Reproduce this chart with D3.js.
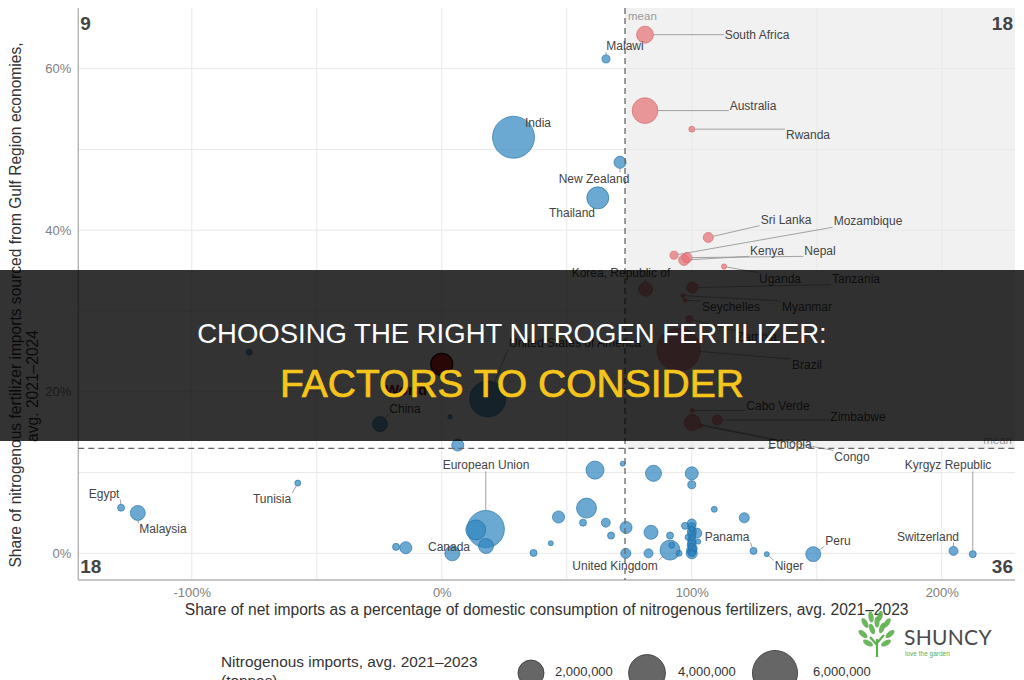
<!DOCTYPE html>
<html><head><meta charset="utf-8">
<script src="https://cdn.jsdelivr.net/npm/d3@7"></script>
<style>
html,body{margin:0;padding:0;background:#fff;}
svg{display:block;font-family:"Liberation Sans",Arial,sans-serif;}
</style></head>
<body><svg id="chart" width="1024" height="680"></svg>
<script>
// ---------------- DATA ----------------
const countries = ["South Africa","Australia","Rwanda","Sri Lanka","Mozambique","Kenya","Nepal","Uganda","Tanzania","Korea, Republic of","Seychelles","Myanmar","Zambia","Brazil","Cabo Verde","Zimbabwe","Ethiopia","Congo","United States of America","China","Malawi","India","New Zealand","Thailand","European Union","Canada","United Kingdom","Panama","Niger","Peru","Switzerland","Kyrgyz Republic","Egypt","Malaysia","Tunisia",
  "","","","","","","","","","","","","","","","","","","","","","","","","","","","","","","","","","","","","","","","","","","","","","",""];
// share of net imports in domestic consumption (%)
const netImportShare = [81.3,81.3,100.0,106.6,92.9,96.9,98.1,112.9,100.2,81.6,97.3,96.5,99.0,94.7,100.2,110.2,100.2,103.5,18.4,-24.7,65.7,28.7,71.3,62.4,17.6,13.6,91.3,124.7,130.0,148.6,204.7,212.4,-128.3,-121.6,-57.6,
  -77.0,3.3,6.4,17.7,4.2,-14.4,-18.3,36.7,43.6,46.7,56.5,57.9,61.3,65.6,67.7,72.4,73.7,73.6,82.7,83.7,84.7,91.3,94.9,100,100,109,121,100,100,100,100,100,100,100,100,97.3,102,102.6,98.5,92.0,100,100,100,100,100,100,101,99.2];
// share of imports sourced from Gulf Region economies (%)
const gulfShare = [64.2,54.8,52.5,39.1,36.9,36.3,36.6,35.5,32.9,32.7,31.3,31.9,29.0,25.2,17.7,16.5,16.2,15.8,19.1,16.0,61.2,51.5,48.4,44.0,3.0,2.9,0.4,0.3,-0.1,-0.1,0.3,-0.1,5.65,5.0,8.7,
  24.9,16.9,13.4,0.9,0.0,0.7,0.8,0.05,1.25,4.5,3.8,5.6,10.3,3.8,2.2,11.1,3.2,0.0,0.0,2.6,9.9,2.2,0.0,9.9,8.5,5.45,4.4,3.7,3.3,2.7,2.3,1.66,1.04,0.42,0.0,3.4,2.5,1.45,2.0,1.0,0.2,0.8,1.3,2.0,3.0,0.0,0.6,1.2];
// nitrogenous imports (tonnes)
const importsTonnes = [850000,1950000,100000,300000,190000,340000,300000,80000,360000,580000,50000,50000,150000,5500000,50000,300000,760000,50000,3800000,660000,190000,5200000,430000,1430000,4100000,1180000,1180000,145000,75000,660000,240000,145000,145000,660000,105000,
  105000,50000,430000,660000,660000,430000,145000,145000,75000,430000,145000,1180000,960000,240000,145000,75000,430000,300000,240000,580000,760000,145000,105000,500000,190000,105000,300000,240000,190000,240000,190000,190000,240000,300000,360000,145000,300000,75000,105000,105000,190000,145000,190000,145000,105000,145000,105000,105000];
// world aggregate marker
const worldPoint = {name: "World", share: 0, gulf: 23.4};
const meanValues = [73.3, 13.0];            // [x mean, y mean]
const quadrantCounts = [9, 18, 18, 36];     // TL, TR, BL, BR
const xTicks = [-100, 0, 100, 200];
const xMinorTicks = [-50, 50, 150];
const yTicks = [0, 20, 40, 60];
const yMinorTicks = [10, 30, 50];
const legendValues = [2000000, 4000000, 6000000];

// label placement (data units) for labelled countries
const labelX = [126.1,124.5,146.5,137.7,170.5,130.1,151.3,135.3,165.7,71.7,115.7,146.1,126.1,146.1,134.5,166.5,139.3,164.1,53.3,-14.7,73.3,38.5,60.9,52.1,17.7,2.9,69.3,114.1,138.9,158.5,194.5,202.5,-135.1,-111.5,-67.9];
const labelY = [64.2,55.4,51.8,41.3,41.1,37.5,37.5,34.0,34.0,34.7,30.5,30.5,26.8,23.3,18.3,16.9,13.5,12.0,26.0,17.9,62.8,53.3,46.4,42.1,10.9,0.8,-1.6,2.1,-1.6,1.6,2.1,10.9,7.4,3.0,6.7];
const worldLabel = [-14.3, 20.2];

// ---------------- CHART ----------------
const svg = d3.select("#chart");
const W = 1024, H = 680;
const panel = {l: 78.3, r: 1015, t: 8, b: 580};
const x = d3.scaleLinear().domain([-145.4, 229.3]).range([panel.l, panel.r]);
const y = d3.scaleLinear().domain([-3.3, 67.5]).range([panel.b, panel.t]);
const rScale = d3.scaleSqrt().domain([0, 1e6]).range([0, 9.2]);

svg.append("rect").attr("width", W).attr("height", H).attr("fill", "#fff");

// shaded quadrant
svg.append("rect")
  .attr("x", x(meanValues[0])).attr("y", panel.t)
  .attr("width", panel.r - x(meanValues[0])).attr("height", y(meanValues[1]) - panel.t)
  .attr("fill", "#f1f1f1");

// grid
const grid = svg.append("g");
xTicks.concat(xMinorTicks).forEach(v => grid.append("line")
  .attr("x1", x(v)).attr("x2", x(v)).attr("y1", panel.t).attr("y2", panel.b)
  .attr("stroke", "#e8e8e8").attr("stroke-width", 1));
yTicks.concat(yMinorTicks).forEach(v => grid.append("line")
  .attr("y1", y(v)).attr("y2", y(v)).attr("x1", panel.l).attr("x2", panel.r)
  .attr("stroke", "#e8e8e8").attr("stroke-width", 1));

// axes
const xAxis = svg.append("g").attr("transform", `translate(0,${panel.b})`)
  .call(d3.axisBottom(x).tickValues(xTicks).tickFormat(d => d + "%").tickSize(0).tickPadding(8));
const yAxis = svg.append("g").attr("transform", `translate(${panel.l},0)`)
  .call(d3.axisLeft(y).tickValues(yTicks).tickFormat(d => d + "%").tickSize(0).tickPadding(7));
[xAxis, yAxis].forEach(g => {
  g.select(".domain").remove();
  g.selectAll("text").attr("fill", "#808080").attr("font-size", "13px").attr("font-family", "Liberation Sans, Arial, sans-serif");
});
svg.append("line").attr("x1", panel.l).attr("x2", panel.l).attr("y1", panel.t).attr("y2", panel.b)
  .attr("stroke", "#b3b3b3").attr("stroke-width", 1.4);
svg.append("line").attr("x1", panel.l).attr("x2", panel.r).attr("y1", panel.b).attr("y2", panel.b)
  .attr("stroke", "#b3b3b3").attr("stroke-width", 1.4);

// axis titles
svg.append("text").attr("x", (panel.l + panel.r) / 2).attr("y", 615)
  .attr("text-anchor", "middle").attr("font-size", "15.6px").attr("fill", "#333")
  .text("Share of net imports as a percentage of domestic consumption of nitrogenous fertilizers, avg. 2021–2023");
svg.append("text").attr("transform", "translate(21,305) rotate(-90)")
  .attr("text-anchor", "middle").attr("font-size", "15.6px").attr("fill", "#333")
  .text("Share of nitrogenous fertilizer imports sourced from Gulf Region economies,");
svg.append("text").attr("transform", "translate(38,386) rotate(-90)")
  .attr("text-anchor", "middle").attr("font-size", "15.6px").attr("fill", "#333")
  .text("avg. 2021–2024");

// data records
const data = countries.map((c, i) => ({
  name: c, share: netImportShare[i], gulf: gulfShare[i], t: importsTonnes[i],
  lx: i < labelX.length ? labelX[i] : null, ly: i < labelY.length ? labelY[i] : null
}));
const isHigh = d => d.share > meanValues[0] && d.gulf > meanValues[1];

const segG = svg.append("g");
const ptG = svg.append("g");
const lineG = svg.append("g");
const labG = svg.append("g");

// points (larger first)
const sorted = data.slice().sort((a, b) => b.t - a.t);
ptG.selectAll("circle").data(sorted).join("circle")
  .attr("cx", d => x(d.share)).attr("cy", d => y(d.gulf)).attr("r", d => rScale(d.t))
  .attr("fill", d => isHigh(d) ? "#e56f74" : "#2d84bf")
  .attr("fill-opacity", 0.7)
  .attr("stroke", d => isHigh(d) ? "#d4646a" : "#1f6ea6")
  .attr("stroke-opacity", 0.8).attr("stroke-width", 0.8);

// world marker
ptG.append("circle").attr("cx", x(worldPoint.share)).attr("cy", y(worldPoint.gulf)).attr("r", 11)
  .attr("fill", "#c20000").attr("fill-opacity", 0.85).attr("stroke", "#200").attr("stroke-width", 1.2);

// mean lines
lineG.append("line").attr("x1", x(meanValues[0])).attr("x2", x(meanValues[0]))
  .attr("y1", panel.t).attr("y2", panel.b)
  .attr("stroke", "#666").attr("stroke-width", 1.3).attr("stroke-dasharray", "6,4");
lineG.append("line").attr("y1", y(meanValues[1])).attr("y2", y(meanValues[1]))
  .attr("x1", panel.l).attr("x2", panel.r)
  .attr("stroke", "#666").attr("stroke-width", 1.3).attr("stroke-dasharray", "6,4");
lineG.append("text").attr("x", x(meanValues[0]) + 3).attr("y", 20)
  .attr("font-size", "11.5px").attr("fill", "#999").text("mean");
lineG.append("text").attr("x", panel.r - 3).attr("y", y(meanValues[1]) - 4)
  .attr("text-anchor", "end").attr("font-size", "11.5px").attr("fill", "#999").text("mean");

// labels
data.filter(d => d.name && d.lx !== null).forEach(d => {
  const cx = x(d.lx), cy = y(d.ly);
  const t = labG.append("text").attr("x", cx).attr("y", cy).attr("dy", "0.35em")
    .attr("text-anchor", "middle").attr("font-size", "12px").attr("fill", "#444").text(d.name);
  const hw = t.node().getComputedTextLength() / 2 + 1, hh = 6;
  const px = x(d.share), py = y(d.gulf), r = rScale(d.t);
  const qx = Math.max(cx - hw, Math.min(px, cx + hw));
  const qy = Math.max(cy - hh, Math.min(py, cy + hh));
  const dist = Math.hypot(qx - px, qy - py);
  if (dist > r + 2) {
    segG.append("line")
      .attr("x1", px + (qx - px) / dist * r).attr("y1", py + (qy - py) / dist * r)
      .attr("x2", qx).attr("y2", qy)
      .attr("stroke", "#999").attr("stroke-width", 0.9);
  }
});
labG.append("text").attr("x", x(worldLabel[0])).attr("y", y(worldLabel[1])).attr("dy", "0.35em")
  .attr("text-anchor", "middle").attr("font-size", "15px").attr("font-weight", "bold")
  .attr("fill", "#8a0000").text(worldPoint.name);

// quadrant counts
const qc = svg.append("g").attr("font-size", "19px").attr("font-weight", "bold").attr("fill", "#444");
qc.append("text").attr("x", panel.l + 2).attr("y", 30).text(quadrantCounts[0]);
qc.append("text").attr("x", panel.r - 2).attr("y", 30).attr("text-anchor", "end").text(quadrantCounts[1]);
qc.append("text").attr("x", panel.l + 2).attr("y", 573).text(quadrantCounts[2]);
qc.append("text").attr("x", panel.r - 2).attr("y", 573).attr("text-anchor", "end").text(quadrantCounts[3]);

// size legend
const lg = svg.append("g");
lg.append("text").attr("x", 221).attr("y", 667).attr("font-size", "15.4px").attr("fill", "#333")
  .text("Nitrogenous imports, avg. 2021–2023");
lg.append("text").attr("x", 221).attr("y", 686).attr("font-size", "15.4px").attr("fill", "#333")
  .text("(tonnes)");
const legX = [531, 647, 775], legLabX = [555, 678, 813];
legendValues.forEach((v, i) => {
  lg.append("circle").attr("cx", legX[i]).attr("cy", 673).attr("r", rScale(v))
    .attr("fill", "#555").attr("fill-opacity", 0.9).attr("stroke", "#333").attr("stroke-width", 0.8);
  lg.append("text").attr("x", legLabX[i]).attr("y", 671).attr("dy", "0.35em")
    .attr("font-size", "13px").attr("fill", "#333").text(d3.format(",")(v));
});

// banner overlay
svg.append("rect").attr("x", 0).attr("y", 270).attr("width", W).attr("height", 171)
  .attr("fill", "#000").attr("fill-opacity", 0.8);
svg.append("text").attr("x", 512).attr("y", 343).attr("text-anchor", "middle")
  .attr("font-family", "Liberation Sans, Arial, sans-serif").attr("font-size", "27.5px").attr("fill", "#fff")
  .text("CHOOSING THE RIGHT NITROGEN FERTILIZER:");
svg.append("text").attr("x", 512).attr("y", 397).attr("text-anchor", "middle")
  .attr("font-family", "Liberation Sans, Arial, sans-serif").attr("font-size", "39px")
  .attr("fill", "#f5c51c").attr("stroke", "#f5c51c").attr("stroke-width", 0.7)
  .text("FACTORS TO CONSIDER");

// logo
const logo = svg.append("g").attr("transform", "translate(877,637)");
const leaves = [[-12,-14,-30],[-6,-20,-10],[3,-21,15],[10,-14,35],[-14,-3,-50],[13,-3,50],[-5,-8,-20],[5,-9,20],[0,-15,0],[-9,6,-60],[9,6,60]];
leaves.forEach(l => logo.append("ellipse").attr("cx", l[0]).attr("cy", l[1]).attr("rx", 2.6).attr("ry", 5.5)
  .attr("transform", `rotate(${l[2]},${l[0]},${l[1]})`).attr("fill", "#5cae4e").attr("fill-opacity", 0.9));
logo.append("path").attr("d", "M0,20 L0,2 M0,8 L-7,0 M0,6 L7,-2").attr("stroke", "#5cae4e").attr("stroke-width", 2.2).attr("fill", "none");
svg.append("text").attr("x", 904).attr("y", 645).attr("font-family", "Lato, sans-serif")
  .attr("font-size", "21px").attr("fill", "#4a4a4a").attr("letter-spacing", "0.3px").text("SHUNCY");
svg.append("text").attr("x", 905).attr("y", 656).attr("font-size", "6.5px").attr("fill", "#5cae4e").text("love the garden");
</script>
</body></html>
